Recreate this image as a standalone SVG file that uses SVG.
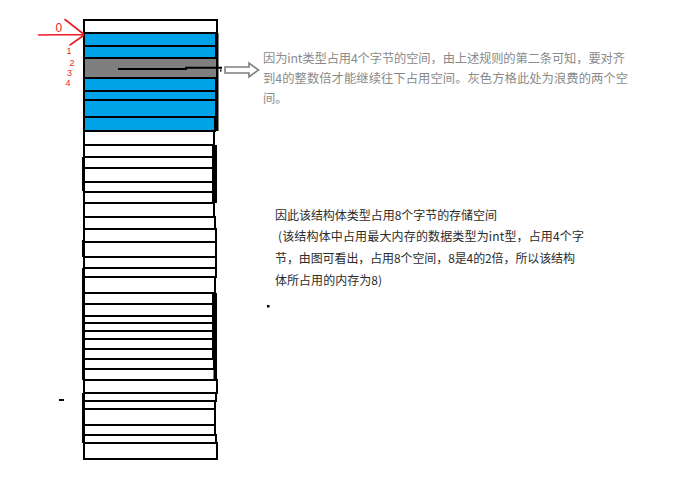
<svg xmlns="http://www.w3.org/2000/svg" width="693" height="478" viewBox="0 0 693 478">
<style>
.c{fill:#fff;stroke:#000;stroke-width:2}
.b{fill:#00a2e8}
.g{fill:#7f7f7f}
.bar{fill:#000}
.red{fill:none;stroke:#ed1c24;stroke-width:1.6;stroke-linecap:round}
.rl{font-family:"Liberation Sans",Arial,sans-serif;fill:#ed1c24}
.t1{font-family:"Microsoft YaHei","Noto Sans CJK SC","Noto Sans",sans-serif;font-size:12.3px;fill:#8a8a8a}
.t2{font-family:"Microsoft YaHei","Noto Sans CJK SC","Noto Sans",sans-serif;font-size:12px;fill:#2b2b2b}
</style>
<rect width="693" height="478" fill="#fff"/>
<g id="column">
<rect id="r1" class="c" x="84" y="20" width="133" height="13"/>
<rect id="r2" class="c b" x="84" y="33" width="132" height="13"/>
<rect id="r3" class="c b" x="84" y="46" width="132" height="12"/>
<rect id="r4" class="c g" x="84" y="58" width="133" height="20"/>
<rect id="r5" class="c b" x="84" y="78" width="132" height="13"/>
<rect id="r6" class="c b" x="84" y="91" width="132" height="9"/>
<rect id="r7" class="c b" x="84" y="100" width="132" height="17"/>
<rect id="r8" class="c b" x="84" y="117" width="131" height="14"/>
<rect id="r9" class="c" x="84" y="131" width="130" height="14"/>
<rect id="r10" class="c" x="84" y="145" width="129" height="12"/>
<rect id="r11" class="c" x="84" y="157" width="129" height="11"/>
<rect id="r12" class="c" x="84" y="168" width="129" height="14"/>
<rect id="r13" class="c" x="84" y="182" width="129" height="10"/>
<rect id="r14" class="c" x="84" y="192" width="129" height="11"/>
<rect id="r15" class="c" x="84" y="203" width="130" height="14"/>
<rect id="r16" class="c" x="84" y="217" width="131" height="12"/>
<rect id="r17" class="c" x="84" y="229" width="132" height="13"/>
<rect id="r18" class="c" x="84" y="242" width="132" height="15"/>
<rect id="r19" class="c" x="84" y="257" width="132" height="11"/>
<rect id="r20" class="c" x="84" y="268" width="132" height="9"/>
<rect id="r21" class="c" x="84" y="277" width="131" height="16"/>
<rect id="r22" class="c" x="84" y="293" width="129" height="11"/>
<rect id="r23" class="c" x="84" y="304" width="129" height="12"/>
<rect id="r24" class="c" x="84" y="316" width="129" height="7"/>
<rect id="r25" class="c" x="84" y="323" width="129" height="8"/>
<rect id="r26" class="c" x="84" y="331" width="129" height="8"/>
<rect id="r27" class="c" x="84" y="339" width="129" height="10"/>
<rect id="r28" class="c" x="84" y="349" width="129" height="10"/>
<rect id="r29" class="c" x="84" y="359" width="130" height="10"/>
<rect id="r30" class="c" x="84" y="369" width="132" height="11"/>
<rect id="r31" class="c" x="84" y="380" width="133" height="13"/>
<rect id="r32" class="c" x="84" y="393" width="132" height="8"/>
<rect id="r33" class="c" x="84" y="401" width="131" height="8"/>
<rect id="r34" class="c" x="84" y="409" width="131" height="16"/>
<rect id="r35" class="c" x="84" y="425" width="131" height="10"/>
<rect id="r36" class="c" x="84" y="435" width="132" height="8"/>
<rect id="r37" class="c" x="84" y="443" width="133" height="16"/>
<rect class="bar" x="216" y="33" width="2.5" height="98"/>
<rect class="bar" x="213" y="145" width="4" height="58"/>
<rect class="bar" x="82" y="157" width="2.5" height="34"/>
<rect class="bar" x="82" y="240" width="2" height="17"/>
<rect class="bar" x="82" y="268" width="2" height="112"/>
<rect class="bar" x="213.5" y="293" width="3.5" height="87"/>
<rect class="bar" x="82" y="393" width="2" height="50"/>
</g>
<g id="connectors">
<polyline points="118,69 186,69 186,67.8 222,67.8" fill="none" stroke="#000" stroke-width="2"/>
<rect x="220" y="69.5" width="1.5" height="2" fill="#000"/>
<polygon points="225,67 249,67 249,63 258.5,70 249,77 249,73 225,73" fill="#fff" stroke="#7f7f7f" stroke-width="1.6"/>
<path class="red" d="M38.5 35 L83.5 34.5 M65 19.5 L83.5 34 M83.5 35.5 L70 45"/>
</g>
<g id="labels">
<text class="rl" x="55.5" y="32" font-size="12">0</text>
<text class="rl" x="66.5" y="53.5" font-size="9">1</text>
<text class="rl" x="69.5" y="65.5" font-size="9">2</text>
<text class="rl" x="67" y="75.5" font-size="9">3</text>
<text class="rl" x="65.5" y="85.5" font-size="9">4</text>
</g>
<g id="note1">
<text class="t1" x="263" y="62.5" textLength="362" lengthAdjust="spacing">因为int类型占用4个字节的空间，由上述规则的第二条可知，要对齐</text>
<text class="t1" x="263" y="82.5" textLength="365" lengthAdjust="spacing">到4的整数倍才能继续往下占用空间。灰色方格此处为浪费的两个空</text>
<text class="t1" x="263" y="102.5">间。</text>
</g>
<g id="note2">
<text class="t2" x="275" y="219.5" textLength="222" lengthAdjust="spacing">因此该结构体类型占用8个字节的存储空间</text>
<text class="t2" x="278" y="240.5" textLength="306" lengthAdjust="spacing">(该结构体中占用最大内存的数据类型为int型，占用4个字</text>
<text class="t2" x="275" y="262.5" textLength="300" lengthAdjust="spacing">节，由图可看出，占用8个空间，8是4的2倍，所以该结构</text>
<text class="t2" x="275" y="284.5" textLength="107" lengthAdjust="spacing">体所占用的内存为8)</text>
</g>
<rect x="267" y="305" width="2.5" height="2.5" fill="#000"/>
<rect x="59" y="399" width="5" height="2" fill="#000"/>
</svg>
